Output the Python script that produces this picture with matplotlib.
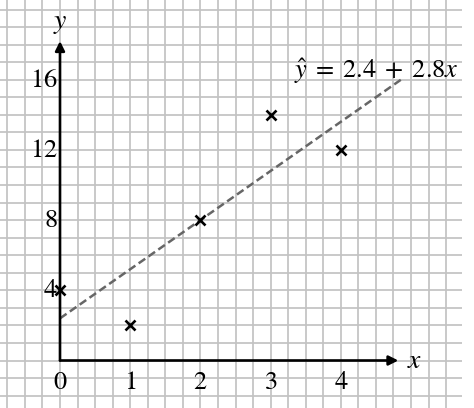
import matplotlib
matplotlib.use("Agg")
import matplotlib.pyplot as plt
import numpy as np

plt.rcParams['mathtext.fontset'] = 'stix'

# Data
x_vals = [0, 1, 2, 3, 4]
y_vals = [4, 2, 8, 14, 12]
intercept = 2.4
slope = 2.8
x_ticks = [0, 1, 2, 3, 4]
y_ticks = [4, 8, 12, 16]
equation = r'$\hat{y}\;=\;2.4\;+\;2.8x$'

W, H = 474, 408
fig = plt.figure(figsize=(W / 100, H / 100), dpi=100)
ax = fig.add_axes([0, 0, 1, 1])

# pixel mapping
x0px, y0px = 60.0, 360.5
ux, uy = 70.2, 17.55
xmin, xmax = -x0px / ux, (W - x0px) / ux
ymax, ymin = y0px / uy, -(H - y0px) / uy
ax.set_xlim(xmin, xmax)
ax.set_ylim(ymin, ymax)
ax.axis('off')

# graph-paper grid
grid_right = (462 - x0px) / ux
grid_col = '#c2c2c2'
for k in np.arange(-3, 23):
    xv = k * 0.25
    if xv <= 5.5:
        ax.plot([xv, xv], [ymin, ymax], color=grid_col, lw=1.25, zorder=1, solid_capstyle='butt')
for k in np.arange(-3, 22):
    ax.plot([xmin, grid_right], [k, k], color=grid_col, lw=1.25, zorder=1, solid_capstyle='butt')

# axes with arrows
ax.annotate('', xy=(4.82, 0), xytext=(0, 0),
            arrowprops=dict(arrowstyle='-|>', lw=1.9, color='black', mutation_scale=14,
                            shrinkA=0, shrinkB=0), zorder=5)
ax.annotate('', xy=(0, 18.2), xytext=(0, 0),
            arrowprops=dict(arrowstyle='-|>', lw=1.9, color='black', mutation_scale=14,
                            shrinkA=0, shrinkB=0), zorder=5)
ax.text(5.05, 0.05, r'$x$', fontsize=20, ha='center', va='center', zorder=6)
ax.text(0.0, 19.3, r'$y$', fontsize=20, ha='center', va='center', zorder=6)

# tick labels
for t in x_ticks:
    ax.text(t, -1.2, r'$%d$' % t, fontsize=19, ha='center', va='center', zorder=6)
for t in y_ticks:
    ax.text(-0.03, t, r'$%d$' % t, fontsize=19, ha='right', va='center', zorder=6)

# regression line
xe = (16 - intercept) / slope
xl = np.array([0, xe])
ax.plot(xl, intercept + slope * xl, color='#666666', lw=1.8, ls=(0, (3.2, 1.6)), zorder=4)

# points
ax.plot(x_vals, y_vals, ls='none', marker='x', color='black', ms=7, mew=1.9, zorder=7)

# equation
ax.text(3.33, 16.5, equation, fontsize=19, ha='left', va='center', zorder=6)

fig.savefig('out.png', dpi=100)
